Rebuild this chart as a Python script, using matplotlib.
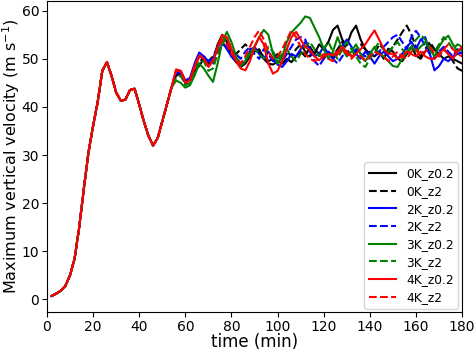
import numpy as np
import matplotlib.pyplot as plt

# shared early part of the run (all experiments identical), t = 2..54 min
common = [0.7, 1.2, 1.8, 2.8, 5.0, 8.5, 15.0, 23.0, 30.5, 36.0, 41.0, 47.5, 49.3, 46.5,
          43.0, 41.3, 41.5, 43.5, 43.8, 40.5, 37.0, 34.0, 32.0, 33.5, 37.0, 40.5, 44.0]

# after divergence, t = 56..180 min
k0_z02 = [46.5, 47, 45, 46, 47.5, 48.5, 50, 49, 49.5, 53, 55, 53.5, 50.5, 49.3, 48.3, 49,
          50.5, 51.5, 52, 50, 49, 48.8, 49.5, 49, 50, 49.3, 50.5, 51.5, 50.5, 52.5, 51, 53,
          52, 53.5, 56, 56.9, 54, 52.8, 55.5, 56.9, 54, 52, 51, 50.5, 51.5, 50, 52.1, 51.5,
          50, 49.5, 51, 52.5, 50.7, 50, 51.5, 53, 52, 51, 50, 50.5, 50, 49.5, 49]
k0_z2 = [47, 47, 45, 45.5, 47, 49, 50.5, 49.5, 50.5, 52.5, 54, 53, 52, 51, 52, 53, 52, 51,
         51.5, 50.5, 49.5, 50, 51, 50, 51.5, 50.5, 52, 53, 51.5, 50.5, 52, 51, 50, 51.5,
         50.5, 52, 53.5, 52, 50.5, 51.5, 53, 52, 50.5, 51, 53, 52, 51, 52.5, 54, 55.5, 56.9,
         55, 52.5, 50.5, 52, 53.5, 52, 50.5, 52, 51, 49.5, 48, 47.5]
k2_z02 = [47.5, 47.5, 45.5, 46, 49, 51.3, 50.5, 49.5, 50, 52.5, 53.5, 52, 50.5, 49.5, 48.5,
          49.5, 51.5, 52.5, 51, 50, 51.5, 50, 48.8, 48.3, 49.5, 51, 50.5, 52, 53.5, 52, 50.5,
          51, 52.5, 51, 50, 51, 52.5, 54, 52.5, 51, 50, 51.5, 50.5, 49, 50.5, 51.5, 50.5,
          49.5, 50, 51, 52.5, 53.5, 52, 54, 54.5, 51, 47.6, 48.5, 50, 49.5, 50.5, 51, 51.4]
k2_z2 = [47, 47, 45, 45.5, 48, 50.5, 50, 48.5, 49, 51.5, 53, 52.5, 50.5, 51, 50, 51.5, 52.5,
         51, 50, 52, 51, 49.5, 50.5, 49.5, 51, 52.5, 54, 54.5, 54, 51.5, 49.5, 48.5, 50,
         51.5, 50, 49, 50.5, 51.5, 50.5, 52, 51, 50.5, 51.5, 50.4, 51.5, 52.5, 53.5, 54.5,
         55, 53.5, 52, 54.5, 55.8, 54.5, 52.5, 51, 50, 51.5, 52.5, 51.5, 50.5, 52, 51]
k3_z02 = [45.5, 45, 44, 44.5, 46.5, 49, 48, 46.5, 45.2, 49, 53.5, 55.6, 53.5, 50.5, 48.5,
          49.5, 51, 52.5, 54.5, 56, 55, 51, 49, 50.5, 53.5, 55.5, 56.5, 57.5, 58.8, 58.5,
          56.5, 54.5, 52, 50, 51.5, 54.5, 52, 50.5, 51.5, 53, 51, 49.5, 51, 52.5, 51, 50.5,
          49.5, 48.5, 48.3, 50, 51.5, 52.5, 51.5, 52.5, 53.5, 52, 50.5, 52.5, 54, 54.8, 53,
          51.5, 52]
k3_z2 = [46, 46.5, 44.5, 45, 47, 49.5, 49.5, 47.5, 48, 51, 53, 54.5, 52, 50.5, 49, 50, 51.5,
         52, 51, 50, 52.5, 51.5, 50, 51, 52, 50.5, 49.5, 51, 52.5, 53.5, 52, 50.5, 52, 53.5,
         51.5, 50, 52, 53.5, 52, 50.5, 49, 48.3, 50, 52, 53.5, 52, 51.5, 52.5, 53.5, 52, 51,
         52.5, 54, 55, 54, 52.5, 51.5, 53, 54.5, 53.5, 52, 53, 52.5]
k4_z02 = [47.8, 47.5, 45, 45.5, 48.5, 50.7, 50, 48.3, 49.5, 52.5, 54.9, 54.5, 52, 49.5, 48,
          47.6, 49.5, 52.5, 54.5, 53, 49, 46.9, 47.5, 49.5, 52, 54.5, 55.6, 54, 52.5, 51.8,
          50.5, 49.7, 50.5, 51, 50.7, 51.5, 52.5, 51.5, 50.5, 51, 52, 53, 54.5, 55.9, 54, 52,
          51, 51.1, 50, 50.5, 51.5, 51, 50.5, 51.5, 50.5, 50, 50, 51, 52, 51, 50, 51.5, 52.5]
k4_z2 = [47.5, 47.5, 45.3, 45.5, 48, 50.5, 50, 48.5, 49.5, 52, 54, 53, 51, 50, 49, 50.5,
         52.5, 54.5, 55.9, 54, 51.5, 50, 50.5, 52, 54, 55.9, 54.5, 52.5, 51, 50, 49.5, 50,
         51, 50, 49.5, 51, 52, 51, 50, 51, 50.5, 49.5, 50.5, 51.5, 51, 50.5, 49.5, 50.5,
         51.5, 50.5, 50, 51.5, 52, 50.5, 51.5, 52.5, 51, 50.5, 52, 53, 52, 51, 50.5]

series = [
    ('0K_z0.2', k0_z02, 'black', '-'),
    ('0K_z2', k0_z2, 'black', '--'),
    ('2K_z0.2', k2_z02, 'blue', '-'),
    ('2K_z2', k2_z2, 'blue', '--'),
    ('3K_z0.2', k3_z02, 'green', '-'),
    ('3K_z2', k3_z2, 'green', '--'),
    ('4K_z0.2', k4_z02, 'red', '-'),
    ('4K_z2', k4_z2, 'red', '--'),
]

fig = plt.figure(figsize=(4.74, 3.51), dpi=100)
ax = fig.add_axes([0.099, 0.11, 0.876, 0.887])

for name, late, col, ls in series:
    v = np.array(common + late)
    t = np.arange(2, 2 + 2 * len(v), 2)
    ax.plot(t, v, color=col, ls=ls, lw=1.5, label=name)

ax.set_xlim(0, 180)
ax.set_ylim(-2.7, 62)
ax.set_xticks(np.arange(0, 181, 20))
ax.set_yticks(np.arange(0, 61, 10))
ax.tick_params(labelsize=10, pad=2)
ax.set_xlabel('time (min)', fontsize=12, labelpad=-1)
ax.set_ylabel('Maximum vertical velocity (m s$^{-1}$)', fontsize=11.5, labelpad=0)
ax.legend(loc='lower right', fontsize=8.8, handlelength=2.2, labelspacing=0.38,
          borderaxespad=0.3)

fig.savefig('out.png', dpi=100)
